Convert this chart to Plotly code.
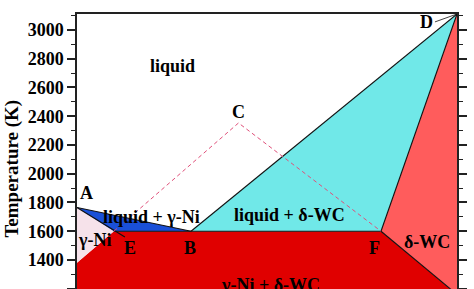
import plotly.graph_objects as go

# ---- data (composition axis 0..100, temperature in K) ----
T_A = 1765          # point A on left axis
T_left_solidus = 1380
x_E, T_E = 9.7, 1600
x_B, T_B = 30, 1600
x_F, T_F = 80, 1600
x_C, T_C = 42.5, 2353
x_D, T_D = 100, 3111
x_Fb, T_Fb = 100, 1160   # end of F boundary at right edge
x_Aext, T_Aext = 12.6, 1560

pink_x = [0, x_E, 0]
pink_y = [T_A, T_E, T_left_solidus]
blue_x = [0, x_B, x_E]
blue_y = [T_A, T_B, T_E]
red_x = [0, x_E, x_F, x_Fb, 100, 0]
red_y = [T_left_solidus, T_E, T_F, T_Fb, 1100, 1100]
cyan_x = [x_B, x_D, x_F]
cyan_y = [T_B, T_D, T_F]
lred_x = [x_D, x_F, x_Fb]
lred_y = [T_D, T_F, T_Fb]
dash_x = [x_E, x_C, x_F]
dash_y = [T_E, T_C, T_F]

label_text = ["liquid", "C", "A", "liquid + γ-Ni", "liquid + δ-WC", "γ-Ni",
              "E", "B", "F", "δ-WC", "γ-Ni + δ-WC", "D"]
label_x = [25, 42.6, 2.6, 19.5, 56, 4.7, 14, 29.7, 78.4, 92, 50.8, 92]
label_y = [2750, 2430, 1866, 1699, 1713, 1539, 1483, 1483, 1483, 1525, 1228, 3056]

yticks = [1200, 1400, 1600, 1800, 2000, 2200, 2400, 2600, 2800, 3000]

fig = go.Figure()

def poly(xs, ys, color):
    fig.add_trace(go.Scatter(x=xs, y=ys, fill="toself", fillcolor=color,
                             mode="lines", line=dict(width=0, color=color),
                             hoverinfo="skip", showlegend=False))

poly(red_x, red_y, "#e00000")
poly(pink_x, pink_y, "#f6e2ea")
poly(blue_x, blue_y, "#1a50d8")
poly(cyan_x, cyan_y, "#70e8e8")
poly(lred_x, lred_y, "#ff5c5c")

def line(xs, ys, color="#111111", width=1.1, dash=None):
    fig.add_trace(go.Scatter(x=xs, y=ys, mode="lines",
                             line=dict(color=color, width=width, dash=dash),
                             hoverinfo="skip", showlegend=False))

line([0, x_B], [T_A, T_B])
line([0, x_Aext], [T_A, T_Aext])
line([x_E, x_F], [T_E, T_F])
line([x_B, x_D], [T_B, T_D])
line([x_D, x_F], [T_D, T_F])
line([x_F, x_Fb], [T_F, T_Fb])
line(dash_x, dash_y, color="#e0507a", width=1, dash="4px,3px")
line([94.2, x_D], [3056, T_D], width=0.8)

for t, x, y in zip(label_text, label_x, label_y):
    fig.add_annotation(x=x, y=y, text="<b>%s</b>" % t, showarrow=False,
                       font=dict(family="Liberation Serif", size=18, color="#000000"),
                       xanchor="center", yanchor="middle")

fig.add_annotation(xref="paper", yref="paper", x=-0.171, y=0.438,
                   text="<b>Temperature (K)</b>", textangle=-90, showarrow=False,
                   font=dict(family="Liberation Serif", size=19, color="#000000"),
                   xanchor="center", yanchor="middle")

fig.update_layout(
    width=474, height=289,
    margin=dict(l=77, r=17, t=14, b=0),
    paper_bgcolor="white", plot_bgcolor="white",
    xaxis=dict(range=[0, 100], side="top", showline=True, linewidth=1.5,
               linecolor="#222222", ticks="", showticklabels=False,
               showgrid=False, zeroline=False),
    yaxis=dict(range=[1198, 3111], showline=True, linewidth=1.5,
               linecolor="#222222", ticks="outside", ticklen=8, tickwidth=1.5,
               tickcolor="#222222", tickvals=yticks,
               ticktext=["<b>%d</b>" % v for v in yticks],
               tickfont=dict(family="Liberation Serif", size=18, color="#000000"),
               minor=dict(dtick=100, tick0=1100, ticks="outside", ticklen=4,
                          tickwidth=1.2, tickcolor="#222222"),
               mirror="ticks", showgrid=False, zeroline=False),
)

fig.write_html("out.html")
